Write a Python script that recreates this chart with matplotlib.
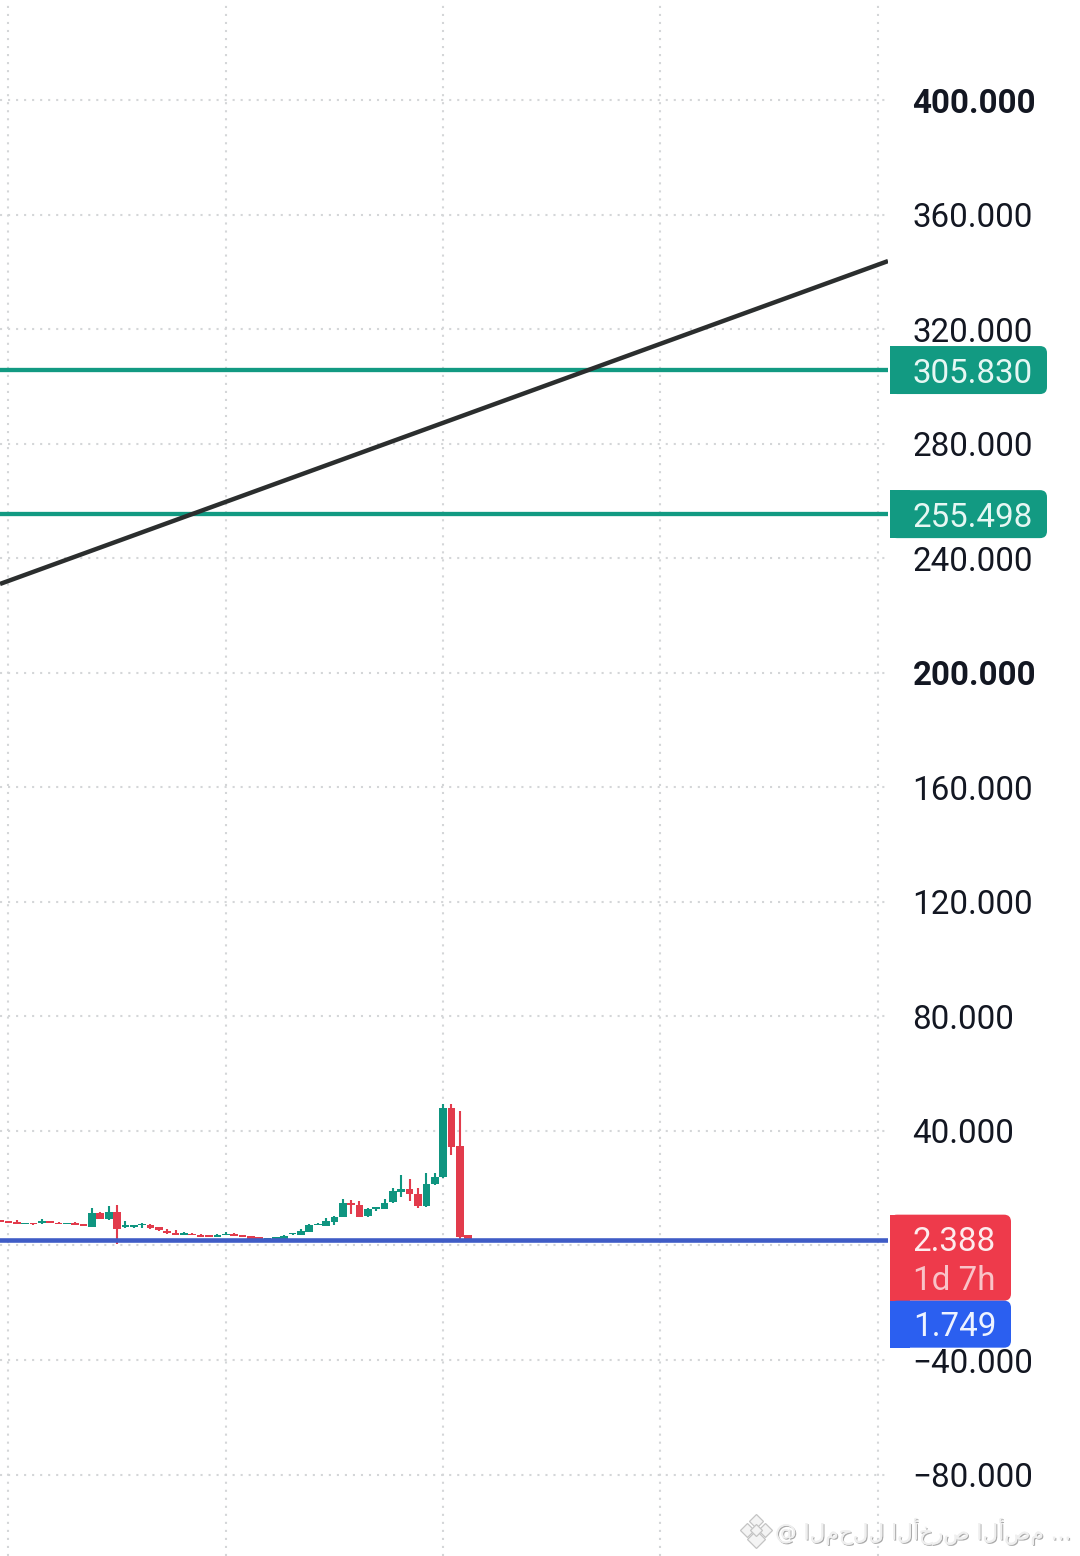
import matplotlib
matplotlib.use("Agg")
import matplotlib.pyplot as plt
import matplotlib.patheffects as pe
from matplotlib.patches import FancyBboxPatch, Rectangle

plt.rcParams["font.family"] = ["Roboto", "DejaVu Sans"]

# ── Data ───────────────────────────────────────────────────────────────────────
opens = [8.9, 8.4, 8.1, 7.5, 7.8, 7.8, 8.4, 8.0, 7.5, 8.0, 7.5, 6.6, 11.5, 9.2, 11.8,
         6.4, 6.6, 7.2, 7.3, 6.3, 5.2, 4.5, 3.7, 4.1, 3.8, 3.7, 3.1, 3.6, 4.1,
         3.6, 3.2, 3.0, 2.2, 2.2, 2.4, 3.9, 3.8, 4.85, 7.05, 6.95, 8.2, 9.85, 15.0,
         14.1, 10.2, 12.9, 12.9, 15.1, 18.8, 19.6, 18.0, 13.9, 21.5, 23.8, 47.9, 34.9, 3.7]
closes = [8.3, 8.0, 7.5, 7.9, 7.5, 8.4, 7.9, 7.6, 7.9, 7.3, 6.9, 11.5, 9.2, 11.8, 5.6,
          7.0, 7.0, 7.6, 6.2, 5.3, 4.3, 3.6, 4.2, 3.6, 3.1, 3.1, 3.7, 4.1, 3.3,
          2.9, 2.4, 2.0, 2.6, 2.8, 3.3, 4.4, 5.0, 7.05, 7.5, 8.6, 10.0, 14.7, 14.0,
          10.1, 12.6, 13.5, 15.0, 19.0, 19.6, 17.9, 13.8, 21.5, 24.0, 47.9, 34.5, 3.1, 2.388]
highs = [9.0, 8.7, 8.9, 8.0, 7.9, 9.2, 8.6, 8.1, 8.0, 8.2, 7.6, 13.0, 11.6, 13.8, 14.0,
         8.6, 7.3, 7.8, 7.4, 6.4, 5.8, 5.5, 4.8, 4.2, 3.9, 3.8, 3.9, 4.6, 4.2,
         3.7, 3.3, 3.1, 2.7, 2.9, 3.8, 4.5, 5.6, 7.6, 8.0, 9.6, 10.4, 16.3, 16.0,
         15.5, 13.2, 13.6, 16.3, 20.2, 24.6, 23.4, 20.2, 25.2, 25.2, 49.4, 49.4, 47.0, 3.7]
lows = [8.2, 7.9, 7.4, 7.4, 7.0, 7.5, 7.8, 7.5, 7.4, 7.2, 6.8, 6.4, 9.1, 9.0, 0.4,
        6.2, 6.1, 6.0, 5.6, 5.2, 3.9, 3.5, 3.6, 3.5, 3.0, 3.0, 3.0, 3.5, 3.2,
        2.8, 2.3, 1.9, 2.1, 2.1, 2.3, 3.8, 3.7, 4.8, 7.0, 6.9, 7.3, 9.8, 11.0,
        10.0, 10.1, 11.9, 12.8, 15.0, 16.9, 15.4, 13.2, 13.5, 21.2, 23.7, 31.5, 1.9, 2.3]

price_ticks = [-80, -40, 0, 40, 80, 120, 160, 200, 240, 280, 320, 360, 400]
bold_ticks = [200, 400]
time_ticks = [1, 27, 53, 79, 105]

level_prices = [255.498, 305.830]
trend_prices = [231.1, 343.9]
last_price = 2.388
countdown = "1d 7h"
mark_price = 1.749
watermark = "@ المحلل الأخرص الأصم ..."

# ── Colours ────────────────────────────────────────────────────────────────────
GREEN = "#0f9580"
RED = "#e23b4c"
LEVEL = "#129a82"
TREND = "#2b2e2e"
MARK_LINE = "#3f5cc6"
LABEL_RED = "#ee3a4b"
LABEL_BLUE = "#2b5ff0"
GRID = "#d4d6d8"
FS = 23.9

W, H = 1080, 1556
PLOT_W = 888
STEP = 8.36  # px per candle

fig = plt.figure(figsize=(W / 100, H / 100), dpi=100, facecolor="white")
ax = fig.add_axes([0, 0, PLOT_W / W, 1])
ax.set_xlim(0, PLOT_W / STEP)
ax.set_ylim(-108.47, 435.1)

# ── Candles ────────────────────────────────────────────────────────────────────
idx = list(range(len(opens)))
colors = [GREEN if c >= o else RED for o, c in zip(opens, closes)]
ax.vlines(idx, lows, highs, colors=colors, lw=1.5, zorder=3)
ax.bar(idx, [abs(c - o) for o, c in zip(opens, closes)],
       bottom=[min(o, c) for o, c in zip(opens, closes)],
       width=0.92, color=colors, zorder=3)

# ── Lines ──────────────────────────────────────────────────────────────────────
for p in level_prices:
    ax.axhline(p, color=LEVEL, lw=3.1, zorder=4)
ax.plot(ax.get_xlim(), trend_prices, color=TREND, lw=3.2, zorder=5, solid_capstyle="butt")
ax.axhline(mark_price, color=MARK_LINE, lw=3.3, zorder=4)

# ── Axes ───────────────────────────────────────────────────────────────────────
for s in ax.spines.values():
    s.set_visible(False)
ax.set_xticks(time_ticks)
ax.set_xticklabels([])
ax.set_yticks(price_ticks)
ax.set_yticklabels([("" if v == 0 else f"{v:.3f}".replace("-", "\u2212")) for v in price_ticks])
ax.yaxis.tick_right()
ax.tick_params(axis="both", length=0)
ax.tick_params(axis="y", pad=17.6, labelsize=FS, labelcolor="#131722")
for lab, v in zip(ax.get_yticklabels(), price_ticks):
    if v in bold_ticks:
        lab.set_fontweight("bold")
ax.grid(True, color=GRID, lw=1.5, linestyle=(0, (1, 2.85)), zorder=0)
ax.set_axisbelow(True)

# ── Price labels, in pixel coordinates on an overlay ───────────────────────────
ov = fig.add_axes([0, 0, 1, 1], zorder=2)
ov.set_xlim(0, W)
ov.set_ylim(H, 0)
ov.axis("off")


def y_px(v):
    return H - ax.transData.transform((0, v))[1]


def price_box(x0, x1, y0, y1, color):
    ov.add_patch(FancyBboxPatch((x0, y0), x1 - x0, y1 - y0, boxstyle="round,pad=0,rounding_size=7",
                                fc=color, ec="none", zorder=2))
    ov.add_patch(Rectangle((x0, y0), 20, y1 - y0, fc=color, ec="none", zorder=2))


for p in level_prices:
    yc = y_px(p)
    price_box(890, 1047, yc - 24, yc + 24, LEVEL)
    ov.text(913, yc, f"{p:.3f}", color="#e6f7f3", fontsize=FS, va="center_baseline", ha="left", zorder=3)

y_last = y_px(last_price)
price_box(890, 1011, y_last - 24, y_last + 62, LABEL_RED)
price_box(890, 1011, y_last + 62, y_last + 109, LABEL_BLUE)
ov.text(913, y_last, f"{last_price:.3f}", color="#fdeced", fontsize=FS, va="center_baseline", zorder=3)
ov.text(913, y_last + 39, countdown, color="#f9c3c8", fontsize=FS, va="center_baseline", zorder=3)
ov.text(913, y_last + 85, f"{mark_price:.3f}", color="#eef3ff", fontsize=FS, va="center_baseline", zorder=3)

# ── Watermark ──────────────────────────────────────────────────────────────────
shadow = [pe.withSimplePatchShadow(offset=(0.8, -0.8), shadow_rgbFace="#8f8f8f", alpha=0.75), pe.Normal()]
ov.text(775, 1531, watermark, family="DejaVu Sans", fontsize=15.6, color="#efefef",
        va="center", ha="left", path_effects=shadow, zorder=3)
for dx, dy, ms in [(0, -9, 7), (-9, 0, 7), (9, 0, 7), (0, 9, 9), (0, 0, 6)]:
    ov.plot(756 + dx, 1530 + dy, marker="D", ms=ms, mfc="#f4f4f4", mec="#c4c4c4", mew=0.9, zorder=3)

fig.savefig("out.png", dpi=100)
